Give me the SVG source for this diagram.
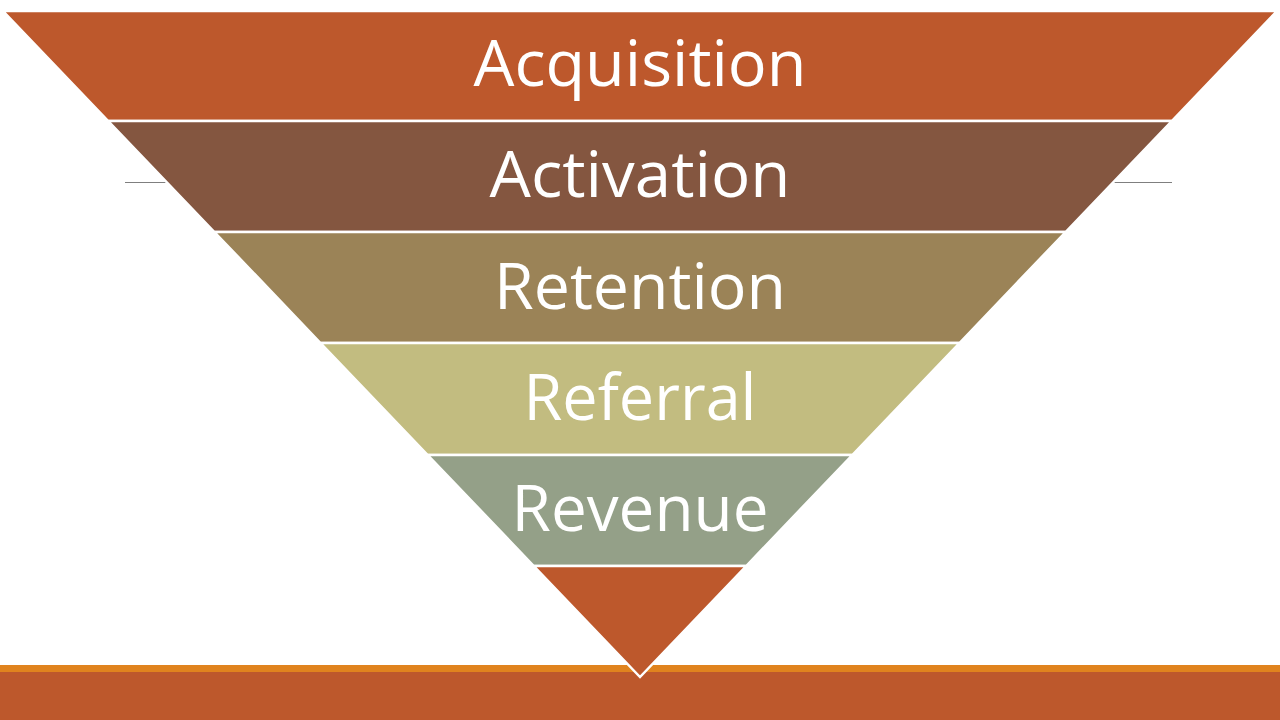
<svg xmlns="http://www.w3.org/2000/svg" width="1280" height="720" viewBox="0 0 1280 720">
<style>
.band{stroke:#ffffff;stroke-width:2.5;stroke-linejoin:miter}
.lbl{font-family:"Open Sans","Liberation Sans",sans-serif;font-size:64px;fill:#ffffff;text-anchor:middle}
</style>
<rect x="0" y="0" width="1280" height="720" fill="#ffffff"/>
<g id="footer">
<rect x="0" y="665" width="1280" height="8" fill="#E0831E"/>
<rect x="0" y="672" width="1280" height="48" fill="#BD582C"/>
</g>
<g id="guide">
<line x1="125" y1="182.5" x2="1172" y2="182.5" stroke="#7F7F7F" stroke-width="1"/>
</g>
<g id="acquisition">
<polygon class="band" fill="#BD582C" points="3,11 1277,11 1171.8,121 108.2,121"/>
<text class="lbl" x="640" y="86" textLength="333" lengthAdjust="spacingAndGlyphs">Acquisition</text>
</g>
<g id="activation">
<polygon class="band" fill="#845640" points="108.2,121 1171.8,121 1065.6,232 214.4,232"/>
<text class="lbl" x="640" y="197" textLength="301" lengthAdjust="spacingAndGlyphs">Activation</text>
</g>
<g id="retention">
<polygon class="band" fill="#9B8357" points="214.4,232 1065.6,232 959.5,343 320.5,343"/>
<text class="lbl" x="640" y="309" textLength="292" lengthAdjust="spacingAndGlyphs">Retention</text>
</g>
<g id="referral">
<polygon class="band" fill="#C2BC80" points="320.5,343 959.5,343 852.3,455 427.7,455"/>
<text class="lbl" x="640" y="420" textLength="233" lengthAdjust="spacingAndGlyphs">Referral</text>
</g>
<g id="revenue">
<polygon class="band" fill="#94A088" points="427.7,455 852.3,455 746.2,566 533.8,566"/>
<text class="lbl" x="640" y="531" textLength="257" lengthAdjust="spacingAndGlyphs">Revenue</text>
</g>
<g id="apex">
<polygon class="band" fill="#BD582C" points="533.8,566 746.2,566 640,677"/>
</g>
</svg>
